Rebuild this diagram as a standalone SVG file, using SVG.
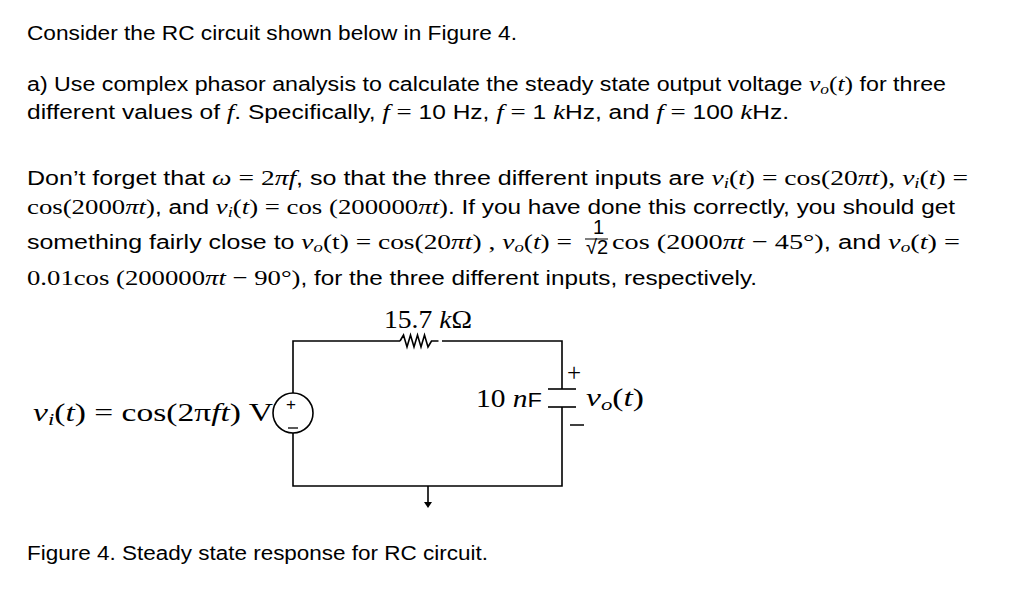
<svg xmlns="http://www.w3.org/2000/svg" width="1024" height="591" viewBox="0 0 1024 591">
<style>
.t{font-family:"Liberation Sans",Arial,sans-serif;font-size:20px;fill:#000}
.m{font-family:"Liberation Serif",serif;font-style:italic;font-size:22px}
.s{font-family:"Liberation Serif",serif;font-size:22px}
.b{font-family:"Liberation Serif",serif;font-style:italic;font-size:15px}
.w{fill:none;stroke:#000;stroke-width:1.6}
.c{font-family:"Liberation Serif",serif;font-size:25px}
</style>
<rect width="1024" height="591" fill="#fff"/>
<g id="text">
<text class="t" x="27" y="40" textLength="490" lengthAdjust="spacingAndGlyphs">Consider the RC circuit shown below in Figure 4.</text>
<text class="t" x="27" y="91" textLength="919" lengthAdjust="spacingAndGlyphs">a) Use complex phasor analysis to calculate the steady state output voltage <tspan class="m">v</tspan><tspan class="b" dy="3">o</tspan><tspan class="s" dy="-3">(</tspan><tspan class="m">t</tspan><tspan class="s">)</tspan> for three</text>
<text class="t" x="27" y="119" textLength="762" lengthAdjust="spacingAndGlyphs">different values of <tspan class="m">f</tspan>. Specifically, <tspan class="m">f</tspan> <tspan class="s">=</tspan> 10 Hz, <tspan class="m">f</tspan> <tspan class="s">=</tspan> 1 <tspan class="m">k</tspan>Hz, and <tspan class="m">f</tspan> <tspan class="s">=</tspan> 100 <tspan class="m">k</tspan>Hz.</text>
<text class="t" x="27" y="185" textLength="941" lengthAdjust="spacingAndGlyphs">Don’t forget that <tspan class="m">ω</tspan> <tspan class="s">=</tspan> <tspan class="s">2</tspan><tspan class="m">πf</tspan>, so that the three different inputs are <tspan class="m">v</tspan><tspan class="b" dy="3">i</tspan><tspan class="s" dy="-3">(</tspan><tspan class="m">t</tspan><tspan class="s">) = cos(20</tspan><tspan class="m">πt</tspan><tspan class="s">),</tspan> <tspan class="m">v</tspan><tspan class="b" dy="3">i</tspan><tspan class="s" dy="-3">(</tspan><tspan class="m">t</tspan><tspan class="s">) =</tspan></text>
<text class="t" x="27" y="214" textLength="928" lengthAdjust="spacingAndGlyphs"><tspan class="s">cos(2000</tspan><tspan class="m">πt</tspan><tspan class="s">)</tspan>, and <tspan class="m">v</tspan><tspan class="b" dy="3">i</tspan><tspan class="s" dy="-3">(</tspan><tspan class="m">t</tspan><tspan class="s">) = cos (200000</tspan><tspan class="m">πt</tspan><tspan class="s">)</tspan>. If you have done this correctly, you should get</text>
<text class="t" x="27" y="249" textLength="545" lengthAdjust="spacingAndGlyphs">something fairly close to <tspan class="m">v</tspan><tspan class="b" dy="3">o</tspan><tspan class="s" dy="-3">(t) = cos(20</tspan><tspan class="m">πt</tspan><tspan class="s">) ,</tspan>  <tspan class="m">v</tspan><tspan class="b" dy="3">o</tspan><tspan class="s" dy="-3">(</tspan><tspan class="m">t</tspan><tspan class="s">) =</tspan></text>
<text class="t" x="593" y="234" font-size="13">1</text>
<line x1="585" y1="239" x2="608" y2="239" stroke="#000" stroke-width="1"/>
<text class="t" x="586" y="254" font-size="14">√2</text>
<text class="t" x="612" y="249" textLength="348" lengthAdjust="spacingAndGlyphs"><tspan class="s">cos (2000</tspan><tspan class="m">πt</tspan><tspan class="s"> − 45°)</tspan>, and <tspan class="m">v</tspan><tspan class="b" dy="3">o</tspan><tspan class="s" dy="-3">(</tspan><tspan class="m">t</tspan><tspan class="s">) =</tspan></text>
<text class="t" x="27" y="285" textLength="730" lengthAdjust="spacingAndGlyphs"><tspan class="s">0.01cos (200000</tspan><tspan class="m">πt</tspan><tspan class="s"> − 90°)</tspan>, for the three different inputs, respectively.</text>
<text class="t" x="27" y="560" textLength="461" lengthAdjust="spacingAndGlyphs">Figure 4. Steady state response for RC circuit.</text>
</g>
<g id="connectors">
<path class="w" d="M293,393 V341 H400 M442,341 H562 V389 M562,407 V486 H293 V433"/>
<path class="w" d="M428,486 V502"/>
<polygon points="424,502 432,502 428,508" fill="#000"/>
</g>
<g id="resistor">
<path class="w" d="M400,341 l3.5,-6 l3.5,12 l3.5,-12 l3.5,12 l3.5,-12 l3.5,12 l3.5,-12 l3.5,12 l3.5,-6 h7"/>
<text class="c" x="384" y="328" textLength="88" lengthAdjust="spacingAndGlyphs">15.7 <tspan font-style="italic">k</tspan>Ω</text>
</g>
<g id="source">
<circle class="w" cx="293" cy="413" r="20"/>
<text x="286" y="410" font-family="Liberation Sans,sans-serif" font-size="17">+</text>
<line x1="288" y1="428" x2="298" y2="428" stroke="#000" stroke-width="1.3"/>
<text class="c" x="33" y="421" textLength="240" lengthAdjust="spacingAndGlyphs"><tspan font-style="italic">v</tspan><tspan font-style="italic" font-size="17" dy="4">i</tspan><tspan dy="-4">(</tspan><tspan font-style="italic">t</tspan>) = cos(2π<tspan font-style="italic">ft</tspan>) V</text>
</g>
<g id="capacitor">
<line x1="548" y1="389" x2="576" y2="389" stroke="#000" stroke-width="1.6"/>
<line x1="548" y1="407" x2="576" y2="407" stroke="#000" stroke-width="1.6"/>
<text class="c" x="476" y="407" textLength="66" lengthAdjust="spacingAndGlyphs">10 <tspan font-style="italic">n</tspan><tspan font-family="Liberation Sans,sans-serif" font-size="20">F</tspan></text>
<text class="c" x="567" y="381">+</text>
<line x1="570" y1="425" x2="584" y2="425" stroke="#000" stroke-width="1.5"/>
<text class="c" x="586" y="406" textLength="58" lengthAdjust="spacingAndGlyphs"><tspan font-style="italic">v</tspan><tspan font-style="italic" font-size="17" dy="4">o</tspan><tspan dy="-4">(</tspan><tspan font-style="italic">t</tspan>)</text>
</g>
</svg>
